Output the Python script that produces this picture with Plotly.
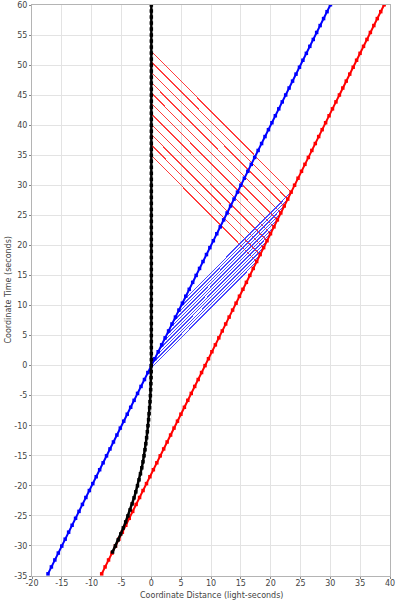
import plotly.graph_objects as go

# Worldline marker times shared by the two moving ships (coordinate time, s)
ship_t = [-34.64, -33.49, -32.33, -31.18, -30.02, -28.87, -27.71, -26.56, -25.40, -24.25,
          -23.09, -21.94, -20.78, -19.63, -18.48, -17.32, -16.17, -15.01, -13.86, -12.70,
          -11.55, -10.39, -9.24, -8.08, -6.93, -5.77, -4.62, -3.46, -2.31, -1.15,
          0.00, 1.15, 2.31, 3.46, 4.62, 5.77, 6.93, 8.08, 9.24, 10.39,
          11.55, 12.70, 13.86, 15.01, 16.17, 17.32, 18.48, 19.63, 20.78, 21.94,
          23.09, 24.25, 25.40, 26.56, 27.71, 28.87, 30.02, 31.18, 32.33, 33.49,
          34.64, 35.80, 36.95, 38.11, 39.26, 40.41, 41.57, 42.72, 43.88, 45.03,
          46.19, 47.34, 48.50, 49.65, 50.81, 51.96, 53.12, 54.27, 55.43, 56.58,
          57.74, 58.89, 60.04]

blue_x = [-17.32, -16.75, -16.17, -15.59, -15.01, -14.44, -13.86, -13.28, -12.70, -12.12,
          -11.55, -10.97, -10.39, -9.81, -9.24, -8.66, -8.08, -7.51, -6.93, -6.35,
          -5.77, -5.20, -4.62, -4.04, -3.46, -2.89, -2.31, -1.73, -1.15, -0.58,
          0.00, 0.58, 1.15, 1.73, 2.31, 2.89, 3.46, 4.04, 4.62, 5.20,
          5.77, 6.35, 6.93, 7.51, 8.08, 8.66, 9.24, 9.81, 10.39, 10.97,
          11.55, 12.12, 12.70, 13.28, 13.86, 14.44, 15.01, 15.59, 16.17, 16.75,
          17.32, 17.90, 18.48, 19.05, 19.63, 20.21, 20.78, 21.36, 21.94, 22.52,
          23.09, 23.67, 24.25, 24.83, 25.40, 25.98, 26.56, 27.14, 27.71, 28.29,
          28.87, 29.45, 30.02]

red_x = [-8.32, -7.75, -7.17, -6.59, -6.01, -5.44, -4.86, -4.28, -3.70, -3.12,
         -2.55, -1.97, -1.39, -0.81, -0.24, 0.34, 0.92, 1.49, 2.07, 2.65,
         3.23, 3.80, 4.38, 4.96, 5.54, 6.11, 6.69, 7.27, 7.85, 8.42,
         9.00, 9.58, 10.15, 10.73, 11.31, 11.89, 12.46, 13.04, 13.62, 14.20,
         14.77, 15.35, 15.93, 16.51, 17.08, 17.66, 18.24, 18.82, 19.39, 19.97,
         20.55, 21.12, 21.70, 22.28, 22.86, 23.43, 24.01, 24.59, 25.17, 25.74,
         26.32, 26.90, 27.48, 28.05, 28.63, 29.21, 29.79, 30.36, 30.94, 31.52,
         32.09, 32.67, 33.25, 33.83, 34.40, 34.98, 35.56, 36.14, 36.71, 37.29,
         37.87, 38.45, 39.02]

# Black (decelerating, then at rest) worldline
black_t = [-31, -30, -29, -28, -27, -26, -25, -24, -23, -22, -21, -20, -19, -18, -17,
           -16, -15, -14, -13, -12, -11, -10, -9, -8, -7, -6, -5, -4, -3, -2, -1, 0,
           1, 2, 3, 4, 5, 6, 7, 8, 9, 10, 11, 12, 13, 14, 15, 16, 17, 18, 19, 20,
           21, 22, 23, 24, 25, 26, 27, 28, 29, 30, 31, 32, 33, 34, 35, 36, 37, 38, 39, 40,
           41, 42, 43, 44, 45, 46, 47, 48, 49, 50, 51, 52, 53, 54, 55, 56, 57, 58, 59, 60]
black_x = [-6.50, -6.02, -5.56, -5.12, -4.70, -4.30, -3.92, -3.56, -3.22, -2.90, -2.60,
           -2.32, -2.06, -1.82, -1.60, -1.40, -1.22, -1.06, -0.92, -0.79, -0.67, -0.56,
           -0.46, -0.37, -0.29, -0.22, -0.16, -0.11, -0.07, -0.04, -0.02, -0.01,
           0, 0, 0, 0, 0, 0, 0, 0, 0, 0, 0, 0, 0, 0, 0, 0, 0, 0, 0, 0,
           0, 0, 0, 0, 0, 0, 0, 0, 0, 0, 0, 0, 0, 0, 0, 0, 0, 0, 0, 0,
           0, 0, 0, 0, 0, 0, 0, 0, 0, 0, 0, 0, 0, 0, 0, 0, 0, 0, 0, 0]

# Blue light signals: emitted by blue ship, received by red ship
blue_sig_t0 = [-0.68, 0.48, 1.63, 2.78, 3.94, 5.09, 6.25, 7.40, 8.56, 9.71, 10.87]
blue_sig_x0 = [-0.34, 0.24, 0.82, 1.39, 1.97, 2.55, 3.12, 3.70, 4.28, 4.86, 5.43]
# Reception events on the red ship
recv_t = [17.32, 18.48, 19.63, 20.78, 21.94, 23.09, 24.25, 25.40, 26.56, 27.71, 28.87]
recv_x = [17.66, 18.24, 18.82, 19.39, 19.97, 20.55, 21.12, 21.70, 22.28, 22.86, 23.43]
# Red light signals sent back to the black observer at x = 0
red_sig_t1 = [34.98, 36.72, 38.45, 40.17, 41.91, 43.64, 45.37, 47.10, 48.84, 50.57, 52.30]
red_sig_x1 = [0, 0, 0, 0, 0, 0, 0, 0, 0, 0, 0]

x_ticks = [-20, -15, -10, -5, 0, 5, 10, 15, 20, 25, 30, 35, 40]
y_ticks = [-35, -30, -25, -20, -15, -10, -5, 0, 5, 10, 15, 20, 25, 30, 35, 40, 45, 50, 55, 60]

fig = go.Figure()

# red signal lines
for x0, t0, x1, t1 in zip(recv_x, recv_t, red_sig_x1, red_sig_t1):
    fig.add_trace(go.Scatter(x=[x0, x1], y=[t0, t1], mode="lines",
                             line=dict(color="#ff3c3c", width=1),
                             hoverinfo="skip", showlegend=False))

# blue signal lines
for x0, t0, x1, t1 in zip(blue_sig_x0, blue_sig_t0, recv_x, recv_t):
    fig.add_trace(go.Scatter(x=[x0, x1], y=[t0, t1], mode="lines",
                             line=dict(color="#4646ff", width=1),
                             hoverinfo="skip", showlegend=False))

marker = dict(symbol="square", size=3.5)
fig.add_trace(go.Scatter(x=blue_x, y=ship_t, mode="lines+markers",
                         line=dict(color="#0000ff", width=2),
                         marker=dict(color="#0000ff", **marker), showlegend=False))
fig.add_trace(go.Scatter(x=red_x, y=ship_t, mode="lines+markers",
                         line=dict(color="#ff0000", width=2),
                         marker=dict(color="#ff0000", **marker), showlegend=False))
fig.add_trace(go.Scatter(x=black_x, y=black_t, mode="lines+markers",
                         line=dict(color="#000000", width=2.5),
                         marker=dict(color="#000000", **marker), showlegend=False))

font_small = dict(family="DejaVu Sans", size=8, color="#444444")
axis_common = dict(showgrid=True, gridcolor="#e3e3e3", gridwidth=1,
                   zeroline=False, showline=True, linecolor="#b4b4b4", linewidth=1,
                   mirror=True, ticks="outside", ticklen=2, tickcolor="#888888",
                   tickfont=font_small, automargin=False)

fig.update_xaxes(range=[-20, 40], tickvals=x_ticks, ticktext=[str(v) for v in x_ticks],
                 ticklabelstandoff=-3, **axis_common)
fig.update_yaxes(range=[-35, 60], tickvals=y_ticks, ticktext=[str(v) for v in y_ticks],
                 ticklabelstandoff=0, **axis_common)

fig.update_layout(width=397, height=600,
                  margin=dict(l=32, r=7, t=5, b=24, autoexpand=False),
                  plot_bgcolor="white", paper_bgcolor="white",
                  showlegend=False,
                  annotations=[
                      dict(text="Coordinate Distance (light-seconds)", xref="paper", yref="paper",
                           x=0.5, y=0, yshift=-19, showarrow=False, yanchor="middle",
                           font=font_small),
                      dict(text="Coordinate Time (seconds)", xref="paper", yref="paper",
                           x=0, y=0.5, xshift=-24, textangle=-90, showarrow=False,
                           xanchor="center", font=font_small),
                  ])

post = """
document.body.style.margin='0';document.body.style.padding='0';
var trs=document.querySelectorAll('.scatterlayer .trace');
for(var i=0;i<22 && i<trs.length;i++){
  trs[i].querySelectorAll('path').forEach(function(p){p.style.shapeRendering='crispEdges';});
}
"""

fig.write_html("out.html", config={"displayModeBar": False}, post_script=post)
